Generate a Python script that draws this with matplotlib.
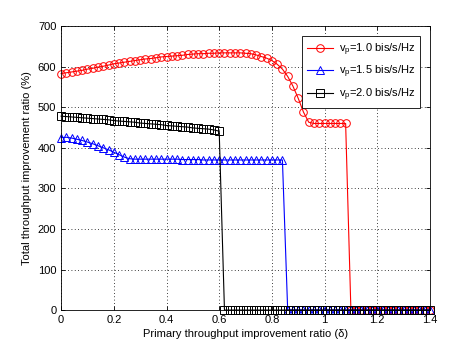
import matplotlib
matplotlib.use("Agg")
import matplotlib.pyplot as plt
import numpy as np

plt.rcParams['font.family'] = ['Liberation Sans', 'DejaVu Sans']
plt.rcParams['mathtext.fontset'] = 'custom'
plt.rcParams['mathtext.rm'] = 'Liberation Sans'

# primary throughput improvement ratio, step 0.02
delta = np.round(np.arange(71) * 0.02, 2)

# v_p = 1.0 bis/s/Hz
ratio_10 = [583, 585, 587, 589, 591, 594, 596, 599, 601, 604,
            607, 609, 611, 613, 615, 617, 619, 620, 622, 624,
            625, 626, 627, 628, 630, 631, 632, 632, 633, 633,
            634, 634, 634, 634, 634, 633, 632, 629, 625, 621,
            615, 606, 594, 576, 552, 522, 488, 463, 460, 460,
            460, 460, 460, 460, 460, 0, 0, 0, 0, 0,
            0, 0, 0, 0, 0, 0, 0, 0, 0, 0, 0]

# v_p = 1.5 bis/s/Hz
ratio_15 = [425, 426, 424, 421, 418, 414, 410, 405, 400, 395,
            389, 383, 377, 373, 372, 372, 372, 372, 372, 372,
            372, 372, 372, 371, 371, 371, 371, 370, 370, 370,
            370, 370, 370, 370, 370, 370, 370, 370, 370, 370,
            370, 370, 370, 0, 0, 0, 0, 0, 0, 0,
            0, 0, 0, 0, 0, 0, 0, 0, 0, 0,
            0, 0, 0, 0, 0, 0, 0, 0, 0, 0, 0]

# v_p = 2.0 bis/s/Hz
ratio_20 = [478, 477, 476, 475, 474, 473, 472, 471, 470, 469,
            467, 466, 465, 464, 463, 461, 460, 459, 458, 457,
            455, 454, 453, 452, 451, 449, 448, 447, 446, 444,
            441, 0, 0, 0, 0, 0, 0, 0, 0, 0,
            0, 0, 0, 0, 0, 0, 0, 0, 0, 0,
            0, 0, 0, 0, 0, 0, 0, 0, 0, 0,
            0, 0, 0, 0, 0, 0, 0, 0, 0, 0, 0]

fig = plt.figure(figsize=(4.74, 3.48), dpi=100)
ax = fig.add_axes([0.129, 0.109, 0.778, 0.816])

style = dict(markersize=5.5, markerfacecolor='none', linewidth=0.8,
             markeredgewidth=0.7, clip_on=False)
ax.plot(delta, ratio_10, color='r', marker='o', label=r'v$_\mathregular{p}$=1.0 bis/s/Hz', **style)
ax.plot(delta, ratio_15, color='b', marker='^', label=r'v$_\mathregular{p}$=1.5 bis/s/Hz', **style)
ax.plot(delta, ratio_20, color='k', marker='s', label=r'v$_\mathregular{p}$=2.0 bis/s/Hz', **style)

ax.set_xlim(0, 1.4)
ax.set_ylim(0, 700)
ax.set_xticks(np.arange(0, 1.41, 0.2))
ax.set_xticklabels(['0', '0.2', '0.4', '0.6', '0.8', '1', '1.2', '1.4'])
ax.set_yticks(np.arange(0, 701, 100))
ax.tick_params(direction='in', top=True, right=True, labelsize=8, length=3, width=0.6)
ax.grid(True, linestyle=(0, (1, 3)), color='k', linewidth=0.6)
for s in ax.spines.values():
    s.set_linewidth(0.6)

ax.set_xlabel('Primary throughput improvement ratio (\u03b4)', fontsize=8, labelpad=3)
ax.set_ylabel('Total throughput improvement ratio (%)', fontsize=8, labelpad=4)

leg = ax.legend(loc='upper right', fontsize=8, fancybox=False, framealpha=1,
                edgecolor='k', borderaxespad=0.9, handlelength=2.3, labelspacing=0.55,
                borderpad=0.45, handletextpad=0.5)
leg.get_frame().set_linewidth(0.6)

fig.savefig('out.png', dpi=100)
